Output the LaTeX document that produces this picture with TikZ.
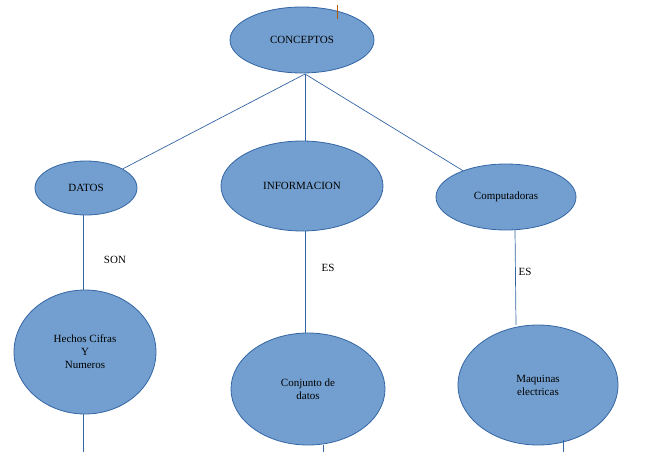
\documentclass[tikz,border=0pt]{standalone}
\usepackage{fontspec}
\setmainfont{Liberation Serif}
\usetikzlibrary{shapes.geometric}
\definecolor{fillb}{HTML}{729FCF}
\definecolor{lineb}{HTML}{3465A4}
\begin{document}
\begin{tikzpicture}[x=1pt,y=-1pt,
  el/.style={ellipse,draw=lineb,fill=fillb,line width=0.8pt,inner sep=0pt,font=\fontsize{11}{13}\selectfont,align=center},
  cn/.style={draw=lineb,line width=0.7pt},
  lb/.style={font=\fontsize{11}{13}\selectfont}]
\useasboundingbox (0,0) rectangle (652,452);
\node[el,minimum width=144,minimum height=66] (c) at (302,40) {CONCEPTOS};
\node[el,minimum width=102,minimum height=54] (d) at (86,188) {DATOS};
\node[el,minimum width=162,minimum height=90] (i) at (302,186) {INFORMACION};
\node[el,minimum width=140,minimum height=66] (p) at (506,197) {Computadoras};
\node[el,minimum width=142,minimum height=124] (h) at (85,352) {Hechos Cifras\\Y\\Numeros};
\node[el,minimum width=154,minimum height=112] (j) at (308,389) {Conjunto de\\datos};
\node[el,minimum width=160,minimum height=120] (m) at (538,385) {Maquinas\\electricas};
\coordinate (c0) at (305,74);
\draw[cn] (c0) -- (d);
\draw[cn] (c0) -- (305,141);
\draw[cn] (c0) -- (p);
\draw[cn] (83,215) -- (83,290);
\draw[cn] (305,231) -- (305,333);
\draw[cn] (515,230) -- (516,325);
\draw[cn] (83,414) -- (83,452);
\draw[cn] (323,445) -- (323,452);
\draw[cn] (563,440) -- (563,452);
\draw[orange!70!black,line width=0.8pt] (337,5) -- (337,19);
\node[lb] (s1) at (115,260) {SON};
\node[lb] (s2) at (328,268) {ES};
\node[lb] (s3) at (525,272) {ES};
\end{tikzpicture}
\end{document}
